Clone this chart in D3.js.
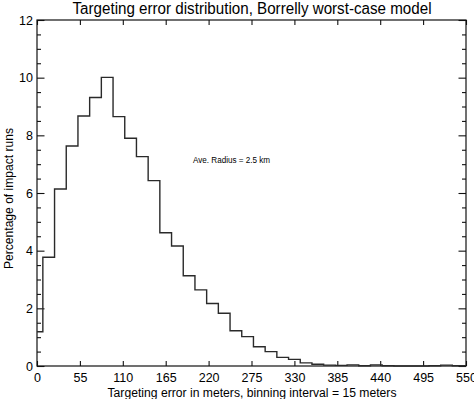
<!DOCTYPE html>
<html>
<head>
<meta charset="utf-8">
<script src="https://cdn.jsdelivr.net/npm/d3@7"></script>
<style>
  body { margin: 0; background: white; }
  text { font-family: "Liberation Sans", Arial, Helvetica, sans-serif; fill: black; }
</style>
</head>
<body>
<script>
// bin centres (m), 15 m bins
let binCenters = [0, 15, 30, 45, 60, 75, 90, 105, 120, 135, 150, 165, 180, 195, 210,
  225, 240, 255, 270, 285, 300, 315, 330, 345, 360, 375, 390, 405, 420, 435, 450,
  465, 480, 495, 510, 525, 540];
// percentage of impact runs per bin
let percent = [1.19, 3.77, 6.14, 7.63, 8.67, 9.31, 10.01, 8.65, 7.90, 7.26, 6.43,
  4.62, 4.16, 3.13, 2.64, 2.17, 1.83, 1.22, 1.02, 0.67, 0.50, 0.30, 0.23, 0.11,
  0.06, 0.03, 0.02, 0.04, 0.01, 0.04, 0.01, 0, 0, 0, 0.01, 0.03, 0.01];
let xTicks = [0, 55, 110, 165, 220, 275, 330, 385, 440, 495, 550];
let yTicks = [0, 2, 4, 6, 8, 10, 12];
let yMinor = [0.5, 1, 1.5, 2.5, 3, 3.5, 4.5, 5, 5.5, 6.5, 7, 7.5, 8.5, 9, 9.5, 10.5, 11, 11.5];

let w = 474, h = 399;
let binWidth = 15;

let svg = d3.select("body").append("svg")
  .attr("width", w)
  .attr("height", h);

let x = d3.scaleLinear().domain([0, 550]).range([37, 466]);
let y = d3.scaleLinear().domain([0, 12]).range([366, 20]);

// bottom axis
svg.append("g")
  .attr("transform", "translate(0," + y(0) + ")")
  .call(d3.axisBottom(x).tickValues(xTicks).tickSize(-5).tickPadding(7))
  .call(g => g.select(".domain").remove())
  .call(g => g.selectAll("text").style("font-size", "12.5px").attr("fill", "black"));

// top axis (ticks only)
svg.append("g")
  .attr("transform", "translate(0," + y(12) + ")")
  .call(d3.axisTop(x).tickValues(xTicks).tickSize(-5).tickFormat(""))
  .call(g => g.select(".domain").remove());

// left axis
svg.append("g")
  .attr("transform", "translate(" + x(0) + ",0)")
  .call(d3.axisLeft(y).tickValues(yTicks).tickSize(-7.5).tickPadding(4))
  .call(g => g.select(".domain").remove())
  .call(g => g.selectAll("text").style("font-size", "12.5px").attr("fill", "black"));
svg.append("g")
  .attr("transform", "translate(" + x(0) + ",0)")
  .call(d3.axisLeft(y).tickValues(yMinor).tickSize(-4).tickFormat(""))
  .call(g => g.select(".domain").remove());

// right axis
svg.append("g")
  .attr("transform", "translate(" + x(550) + ",0)")
  .call(d3.axisRight(y).tickValues(yTicks).tickSize(-7.5).tickFormat(""))
  .call(g => g.select(".domain").remove());
svg.append("g")
  .attr("transform", "translate(" + x(550) + ",0)")
  .call(d3.axisRight(y).tickValues(yMinor).tickSize(-4).tickFormat(""))
  .call(g => g.select(".domain").remove());

svg.selectAll(".tick line").attr("stroke", "#111").attr("stroke-width", 1.1);

// frame
svg.append("rect")
  .attr("x", x(0))
  .attr("y", y(12))
  .attr("width", x(550) - x(0))
  .attr("height", y(0) - y(12))
  .attr("fill", "none")
  .attr("stroke", "#111")
  .attr("stroke-width", 1.2);

// histogram as a step line
let pts = binCenters.map((c, i) => [Math.max(0, c - binWidth / 2), percent[i]]);
pts.push([550, percent[percent.length - 1]]);

let line = d3.line()
  .x(d => x(d[0]))
  .y(d => y(d[1]))
  .curve(d3.curveStepAfter);

svg.append("path")
  .datum(pts)
  .attr("d", line)
  .attr("fill", "none")
  .attr("stroke", "#2a2a2a")
  .attr("stroke-width", 1.4);

// title
svg.append("text")
  .attr("x", 252)
  .attr("y", 13.5)
  .attr("text-anchor", "middle")
  .attr("textLength", 359)
  .attr("lengthAdjust", "spacingAndGlyphs")
  .style("font-size", "16px")
  .text("Targeting error distribution, Borrelly worst-case model");

// x axis title
svg.append("text")
  .attr("x", 252)
  .attr("y", 397)
  .attr("text-anchor", "middle")
  .attr("textLength", 289)
  .attr("lengthAdjust", "spacingAndGlyphs")
  .style("font-size", "12.5px")
  .text("Targeting error in meters, binning interval = 15 meters");

// y axis title
svg.append("text")
  .attr("transform", "translate(13,198.5) rotate(-90)")
  .attr("text-anchor", "middle")
  .attr("textLength", 141)
  .attr("lengthAdjust", "spacingAndGlyphs")
  .style("font-size", "12.5px")
  .text("Percentage of impact runs");

// annotation
svg.append("text")
  .attr("x", 193)
  .attr("y", 163)
  .attr("textLength", 77)
  .attr("lengthAdjust", "spacingAndGlyphs")
  .style("font-size", "8.5px")
  .text("Ave. Radius = 2.5 km");
</script>
</body>
</html>
